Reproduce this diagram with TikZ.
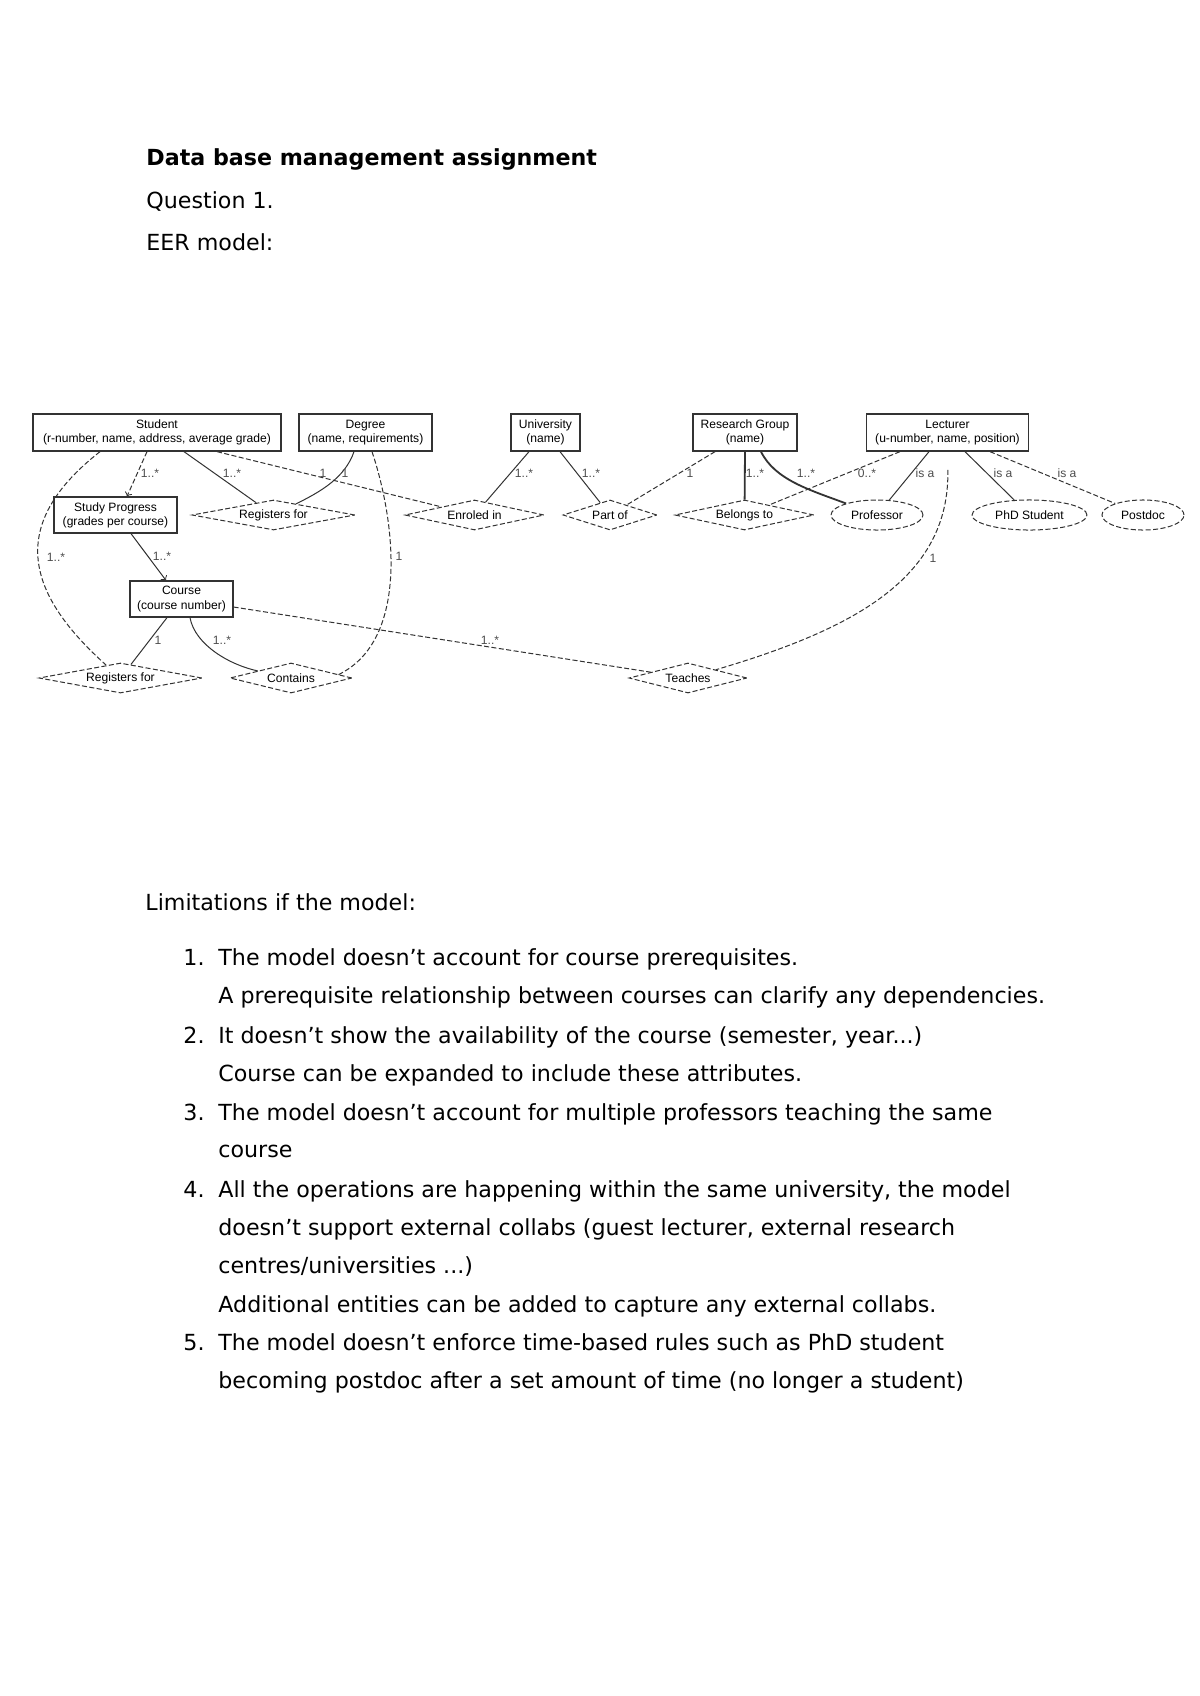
\documentclass[tikz,border=0pt]{standalone}
\usepackage{fontspec}
\setmainfont{DejaVu Sans}
\newfontfamily\diagfont{Liberation Sans}
\usetikzlibrary{shapes.geometric,calc}

\tikzset{
  entity/.style={draw=black!80, line width=0.6pt, rectangle, inner sep=0pt, align=center,
    font=\diagfont\fontsize{6}{7}\selectfont, minimum height=18.4pt},
  relation/.style={draw=black!80, line width=0.5pt, diamond, dash pattern=on 2.5pt off 1.2pt,
    inner sep=0pt, font=\diagfont\fontsize{6}{7}\selectfont, minimum height=14.9pt},
  subclass/.style={draw=black!80, line width=0.5pt, ellipse, dash pattern=on 2.5pt off 1.2pt,
    inner sep=0pt, font=\diagfont\fontsize{6}{7}\selectfont, minimum height=14.9pt},
  card/.style={font=\diagfont\fontsize{6}{7}\selectfont, text=black!70, inner sep=0pt},
  link/.style={draw=black!80, line width=0.5pt},
  dlink/.style={link, dash pattern=on 2.5pt off 1.2pt},
  tlink/.style={link, line width=0.9pt},
  body/.style={anchor=base west, inner sep=0pt, font=\fontsize{11}{13}\selectfont}
}

\begin{document}
\begin{tikzpicture}[x=0.49606pt, y=-0.49606pt]
        \useasboundingbox (0,0) rectangle (1200,1696);

        % Heading
        \node[body, font=\bfseries\fontsize{11}{13}\selectfont] (title) at (146,165) {Data base management assignment};
        \node[body] (question) at (146,208) {Question 1.};
        \node[body] (eer) at (146,250) {EER model:};

        % Entities
        \node[entity, minimum width=123pt] (student) at (157,432.5) {Student\\(r-number, name, address, average grade)};
        \node[entity, minimum width=66pt] (degree) at (365.5,432.5) {Degree\\(name, requirements)};
        \node[entity, minimum width=34.2pt] (university) at (545.5,432.5) {University\\(name)};
        \node[entity, minimum width=51.6pt] (rgroup) at (745,432.5) {Research Group\\(name)};
        \node[entity, minimum width=80pt] (lecturer) at (947.5,432.5) {Lecturer\\(u-number, name, position)};
        \node[entity, minimum width=61pt, minimum height=17.9pt] (progress) at (115.5,515) {Study Progress\\(grades per course)};
        \node[entity, minimum width=51pt, minimum height=17.9pt] (course) at (181.5,599) {Course\\(course number)};

        % Relationships
        \node[relation, aspect=5.4, minimum width=80.9pt] (regdeg) at (273.5,515) {Registers for};
        \node[relation, aspect=4.6, minimum width=69pt] (enrolled) at (474.5,515) {Enroled in};
        \node[relation, aspect=3.1, minimum width=46.6pt] (partof) at (610,515) {Part of};
        \node[relation, aspect=4.6, minimum width=69pt] (belongs) at (744.5,515) {Belongs to};
        \node[relation, aspect=5.4, minimum width=80.9pt] (regcourse) at (120.5,678) {Registers for};
        \node[relation, aspect=4.1, minimum width=60.5pt] (contains) at (291,678) {Contains};
        \node[relation, aspect=3.9, minimum width=58.5pt] (teaches) at (688,678) {Teaches};

        % Subclasses of Lecturer
        \node[subclass, minimum width=45.6pt] (professor) at (877,515) {Professor};
        \node[subclass, minimum width=57pt] (phd) at (1029.5,515) {PhD Student};
        \node[subclass, minimum width=40.7pt] (postdoc) at (1143,515) {Postdoc};

        % Student links
        \draw[dlink,->] ($(student.south)+(-10,0)$) -- ($(progress.north)+(11.5,0)$);
        \draw[link] ($(student.south)+(27,0)$) -- (regdeg);
        \draw[dlink] ($(student.south)+(-57,0)$) .. controls (5,526) and (28,595) .. (regcourse);
        \draw[dlink] ($(student.south)+(60,0)$) -- (enrolled);
        \node[card] (c-sp) at (150,473) {1..*};
        \node[card] (c-sr) at (232,473) {1..*};
        \node[card] (c-rc) at (56,557) {1..*};

        % Degree links
        \draw[link] ($(degree.south)+(-11.5,0)$) .. controls (345,478) and (320,492) .. (regdeg);
        \draw[dlink] ($(degree.south)+(6.5,0)$) .. controls (395,520) and (410,640) .. ($(contains.east)+(-14,-3.4)$);
        \node[card] (c-dr1) at (323,473) {1};
        \node[card] (c-dr2) at (345,473) {1};
        \node[card] (c-dc) at (399,556) {1};

        % University links
        \draw[link] ($(university.south)+(-16.5,0)$) -- (enrolled);
        \draw[link] ($(university.south)+(14.5,0)$) -- (partof);
        \node[card] (c-ue) at (524,473) {1..*};
        \node[card] (c-up) at (591,473) {1..*};

        % Research group links
        \draw[dlink] ($(rgroup.south)+(-30,0)$) -- (partof);
        \draw[tlink] (rgroup.south) -- (belongs);
        \draw[tlink] ($(rgroup.south)+(16,0)$) .. controls (775,480) and (810,490) .. (professor);
        \node[card] (c-rp) at (690,473) {1};
        \node[card] (c-rb) at (755,473) {1..*};
        \node[card] (c-rf) at (806,473) {1..*};

        % Lecturer links
        \draw[dlink] ($(lecturer.south)+(-47.5,0)$) -- (belongs);
        \draw[link] ($(lecturer.south)+(-18.5,0)$) -- (professor);
        \draw[dlink, shorten <=9pt] (lecturer.south) .. controls (950,580) and (850,630) .. (teaches);
        \draw[link] ($(lecturer.south)+(17.5,0)$) -- (phd);
        \draw[dlink] ($(lecturer.south)+(42.5,0)$) -- (postdoc);
        \node[card] (c-lb) at (867,473) {0..*};
        \node[card] (c-lf) at (925,473) {is a};
        \node[card] (c-lh) at (1003,473) {is a};
        \node[card] (c-lo) at (1067,473) {is a};
        \node[card] (c-lt) at (933,558) {1};

        % Study progress and course links
        \draw[link,->] ($(progress.south)+(15.5,0)$) -- ($(course.north)+(-15.5,0)$);
        \draw[link] ($(course.south)+(-14.5,0)$) -- (regcourse);
        \draw[link] ($(course.south)+(8.5,0)$) .. controls (195,645) and (230,665) .. (contains);
        \draw[dlink] ($(course.east)+(0,8)$) -- (teaches);
        \node[card] (c-pc) at (162,556) {1..*};
        \node[card] (c-cr) at (158,640) {1};
        \node[card] (c-cc) at (222,640) {1..*};
        \node[card] (c-ct) at (490,640) {1..*};

        % Limitations
        \node[body] (limits) at (145,910) {Limitations if the model:};
        \node[body] (n1) at (183,965) {1.};
        \node[body] (l1a) at (218,965) {The model doesn’t account for course prerequisites.};
        \node[body] (l1b) at (218,1003) {A prerequisite relationship between courses can clarify any dependencies.};
        \node[body] (n2) at (183,1043) {2.};
        \node[body] (l2a) at (218,1043) {It doesn’t show the availability of the course (semester, year...)};
        \node[body] (l2b) at (218,1081) {Course can be expanded to include these attributes.};
        \node[body] (n3) at (183,1120) {3.};
        \node[body] (l3a) at (218,1120) {The model doesn’t account for multiple professors teaching the same};
        \node[body] (l3b) at (218,1157) {course};
        \node[body] (n4) at (183,1197) {4.};
        \node[body] (l4a) at (218,1197) {All the operations are happening within the same university, the model};
        \node[body] (l4b) at (218,1235) {doesn’t support external collabs (guest lecturer, external research};
        \node[body] (l4c) at (218,1273) {centres/universities ...)};
        \node[body] (l4d) at (218,1312) {Additional entities can be added to capture any external collabs.};
        \node[body] (n5) at (183,1350) {5.};
        \node[body] (l5a) at (218,1350) {The model doesn’t enforce time-based rules such as PhD student};
        \node[body] (l5b) at (218,1388) {becoming postdoc after a set amount of time (no longer a student)};
    \end{tikzpicture}
\end{document}
